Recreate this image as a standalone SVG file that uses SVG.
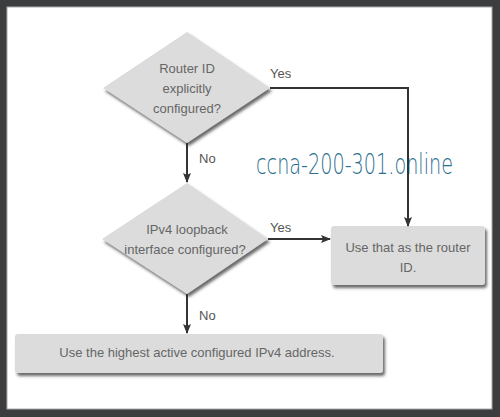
<svg xmlns="http://www.w3.org/2000/svg" width="500" height="417" viewBox="0 0 500 417">
<defs>
<style>
.lbl{font-family:"Liberation Sans",Arial,sans-serif;font-size:13px;fill:#666;text-anchor:middle}
.yn{font-family:"Liberation Sans",Arial,sans-serif;font-size:13px;fill:#555}
.node{fill:#dcdcdc;filter:url(#sh)}
.conn{stroke:#333;stroke-width:2;fill:none}
.wm{font-family:"DejaVu Sans",sans-serif;font-size:29px;font-weight:200;fill:#2b6e8e}
</style>
<filter id="sh" x="-10%" y="-10%" width="130%" height="130%">
<feDropShadow dx="2" dy="3" stdDeviation="1.5" flood-color="#444" flood-opacity="0.8"/>
</filter>
<marker id="ah" markerWidth="10" markerHeight="8" refX="9" refY="4" orient="auto" markerUnits="userSpaceOnUse">
<path d="M0,0 L10,4 L0,8 L2,4 z" fill="#333"/>
</marker>
</defs>
<rect x="0" y="0" width="500" height="417" fill="#3c3d3f"/>
<rect x="7" y="7" width="485" height="402" fill="#fff" stroke="#aaa" stroke-width="1"/>
<text class="wm" x="256" y="174" textLength="197" lengthAdjust="spacingAndGlyphs">ccna-200-301.online</text>
<g id="d1">
<polygon class="node" points="187,32 270,88 187,143 103,88"/>
<text class="lbl" x="187" y="73">Router ID</text>
<text class="lbl" x="187" y="93">explicitly</text>
<text class="lbl" x="187" y="113">configured?</text>
</g>
<g id="d2">
<polygon class="node" points="187,183 268,239 187,294 102,239"/>
<text class="lbl" x="187" y="234">IPv4 loopback</text>
<text class="lbl" x="185" y="254">interface configured?</text>
</g>
<g id="b1">
<rect class="node" x="331" y="226" width="154" height="59" rx="3"/>
<text class="lbl" x="408" y="252">Use that as the router</text>
<text class="lbl" x="408" y="272">ID.</text>
</g>
<g id="b2">
<rect class="node" x="15" y="334" width="368" height="39" rx="3"/>
<text class="lbl" x="197" y="357">Use the highest active configured IPv4 address.</text>
</g>
<g id="connectors">
<polyline class="conn" points="270,88 408,88 408,226" marker-end="url(#ah)"/>
<line class="conn" x1="187" y1="143" x2="187" y2="182" marker-end="url(#ah)"/>
<line class="conn" x1="268" y1="239" x2="330" y2="239" marker-end="url(#ah)"/>
<line class="conn" x1="187" y1="294" x2="187" y2="333" marker-end="url(#ah)"/>
<text class="yn" x="270" y="78">Yes</text>
<text class="yn" x="199" y="163">No</text>
<text class="yn" x="270" y="232">Yes</text>
<text class="yn" x="199" y="320">No</text>
</g>
</svg>
